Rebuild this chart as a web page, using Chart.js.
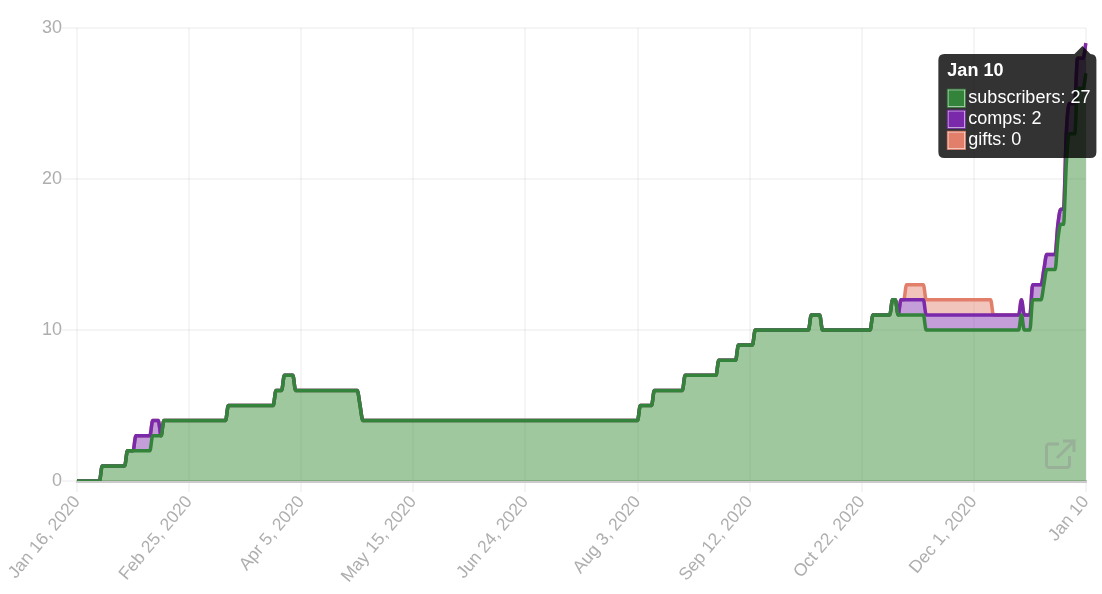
<!DOCTYPE html>
<html>
<head>
<meta charset="utf-8">
<style>
    html, body { margin: 0; padding: 0; background: #fff; }
    #wrap { position: relative; width: 1102px; height: 594px; }
    #popout { position: absolute; left: 1045px; top: 439px; width: 31px; height: 31px; }
</style>
<script src="https://cdn.jsdelivr.net/npm/chart.js@4"></script>
</head>
<body>
<div id="wrap">
    <canvas id="lineChart" width="1102" height="594"></canvas>
    <svg id="popout" viewBox="0 0 31 31" fill="none" stroke="rgba(140,140,140,0.4)" stroke-width="3">
        <path d="M14 5H4a2.5 2.5 0 0 0-2.5 2.5V26A2.5 2.5 0 0 0 4 28.5h18a2.5 2.5 0 0 0 2.5-2.5V17"/>
        <path d="M12 19L28 3M18 2h11v11"/>
    </svg>
</div>
<script>
Chart.defaults.font.family = "'Liberation Sans', Arial, sans-serif";

// one value per day, Jan 16 2020 to Jan 10 2021
const subscribers = [
    0,0,0,0,0,0,0,0,0,1,
    1,1,1,1,1,1,1,1,2,2,
    2,2,2,2,2,2,2,3,3,3,
    3,4,4,4,4,4,4,4,4,4,
    4,4,4,4,4,4,4,4,4,4,
    4,4,4,4,5,5,5,5,5,5,
    5,5,5,5,5,5,5,5,5,5,
    5,6,6,6,7,7,7,7,6,6,
    6,6,6,6,6,6,6,6,6,6,
    6,6,6,6,6,6,6,6,6,6,
    6,5,4,4,4,4,4,4,4,4,
    4,4,4,4,4,4,4,4,4,4,
    4,4,4,4,4,4,4,4,4,4,
    4,4,4,4,4,4,4,4,4,4,
    4,4,4,4,4,4,4,4,4,4,
    4,4,4,4,4,4,4,4,4,4,
    4,4,4,4,4,4,4,4,4,4,
    4,4,4,4,4,4,4,4,4,4,
    4,4,4,4,4,4,4,4,4,4,
    4,4,4,4,4,4,4,4,4,4,
    4,5,5,5,5,5,6,6,6,6,
    6,6,6,6,6,6,6,7,7,7,
    7,7,7,7,7,7,7,7,7,8,
    8,8,8,8,8,8,9,9,9,9,
    9,9,10,10,10,10,10,10,10,10,
    10,10,10,10,10,10,10,10,10,10,
    10,10,11,11,11,11,10,10,10,10,
    10,10,10,10,10,10,10,10,10,10,
    10,10,10,10,11,11,11,11,11,11,
    11,12,12,11,11,11,11,11,11,11,
    11,11,11,10,10,10,10,10,10,10,
    10,10,10,10,10,10,10,10,10,10,
    10,10,10,10,10,10,10,10,10,10,
    10,10,10,10,10,10,10,11,10,10,
    10,12,12,12,12,13,14,14,14,14,
    16,17,17,21,23,23,23,26,26,26,
    27
];
const comps = [
    0,0,0,0,0,0,0,0,0,0,
    0,0,0,0,0,0,0,0,0,0,
    0,1,1,1,1,1,1,1,1,1,
    0,0,0,0,0,0,0,0,0,0,
    0,0,0,0,0,0,0,0,0,0,
    0,0,0,0,0,0,0,0,0,0,
    0,0,0,0,0,0,0,0,0,0,
    0,0,0,0,0,0,0,0,0,0,
    0,0,0,0,0,0,0,0,0,0,
    0,0,0,0,0,0,0,0,0,0,
    0,0,0,0,0,0,0,0,0,0,
    0,0,0,0,0,0,0,0,0,0,
    0,0,0,0,0,0,0,0,0,0,
    0,0,0,0,0,0,0,0,0,0,
    0,0,0,0,0,0,0,0,0,0,
    0,0,0,0,0,0,0,0,0,0,
    0,0,0,0,0,0,0,0,0,0,
    0,0,0,0,0,0,0,0,0,0,
    0,0,0,0,0,0,0,0,0,0,
    0,0,0,0,0,0,0,0,0,0,
    0,0,0,0,0,0,0,0,0,0,
    0,0,0,0,0,0,0,0,0,0,
    0,0,0,0,0,0,0,0,0,0,
    0,0,0,0,0,0,0,0,0,0,
    0,0,0,0,0,0,0,0,0,0,
    0,0,0,0,0,0,0,0,0,0,
    0,0,0,0,0,0,0,0,0,0,
    0,0,0,0,0,0,0,0,0,0,
    0,0,0,0,0,0,0,0,0,0,
    0,0,0,0,1,1,1,1,1,1,
    1,1,1,1,1,1,1,1,1,1,
    1,1,1,1,1,1,1,1,1,1,
    1,1,1,1,1,1,1,1,1,1,
    1,1,1,1,1,1,1,1,1,1,
    1,1,1,1,1,1,1,1,1,1,
    1,1,1,2,2,2,2,2,2,2,
    2
];
const gifts = [
    0,0,0,0,0,0,0,0,0,0,
    0,0,0,0,0,0,0,0,0,0,
    0,0,0,0,0,0,0,0,0,0,
    0,0,0,0,0,0,0,0,0,0,
    0,0,0,0,0,0,0,0,0,0,
    0,0,0,0,0,0,0,0,0,0,
    0,0,0,0,0,0,0,0,0,0,
    0,0,0,0,0,0,0,0,0,0,
    0,0,0,0,0,0,0,0,0,0,
    0,0,0,0,0,0,0,0,0,0,
    0,0,0,0,0,0,0,0,0,0,
    0,0,0,0,0,0,0,0,0,0,
    0,0,0,0,0,0,0,0,0,0,
    0,0,0,0,0,0,0,0,0,0,
    0,0,0,0,0,0,0,0,0,0,
    0,0,0,0,0,0,0,0,0,0,
    0,0,0,0,0,0,0,0,0,0,
    0,0,0,0,0,0,0,0,0,0,
    0,0,0,0,0,0,0,0,0,0,
    0,0,0,0,0,0,0,0,0,0,
    0,0,0,0,0,0,0,0,0,0,
    0,0,0,0,0,0,0,0,0,0,
    0,0,0,0,0,0,0,0,0,0,
    0,0,0,0,0,0,0,0,0,0,
    0,0,0,0,0,0,0,0,0,0,
    0,0,0,0,0,0,0,0,0,0,
    0,0,0,0,0,0,0,0,0,0,
    0,0,0,0,0,0,0,0,0,0,
    0,0,0,0,0,0,0,0,0,0,
    0,0,0,0,0,0,1,1,1,1,
    1,1,1,1,1,1,1,1,1,1,
    1,1,1,1,1,1,1,1,1,1,
    1,1,1,1,1,1,1,0,0,0,
    0,0,0,0,0,0,0,0,0,0,
    0,0,0,0,0,0,0,0,0,0,
    0,0,0,0,0,0,0,0,0,0,
    0
];

const tickDays = [0, 40, 80, 120, 160, 200, 240, 280, 320, 360];
const yTicks = [0, 10, 20, 30];

const labels = [];
for(let i = 0; i < subscribers.length; i++){
    const day = new Date(2020, 0, 16 + i);
    const text = day.toLocaleDateString("en-US", {month: "short", day: "numeric"});
    labels.push(i === subscribers.length - 1 ? text : text + ", " + day.getFullYear());
}

const green = "#33833a";
const purple = "#7b29ab";
const coral = "#e27f6a";

// tooltip sits on the top of the stack at the hovered day, pushed in from the right edge
Chart.Tooltip.positioners.stackTop = function(items){
    if(!items.length) return false;
    return {x: items[0].element.x - 3.5, y: Math.min(...items.map(item => item.element.y))};
};

const chart = new Chart(document.getElementById("lineChart"), {
    type: "line",
    data: {
        labels: labels,
        datasets: [
            {label: "subscribers", data: subscribers, borderColor: green, backgroundColor: "rgba(46, 135, 46, 0.46)", fill: "origin"},
            {label: "comps", data: comps, borderColor: purple, backgroundColor: "rgba(123, 41, 171, 0.45)", fill: "-1"},
            {label: "gifts", data: gifts, borderColor: coral, backgroundColor: "rgba(226, 127, 106, 0.45)", fill: "-1"}
        ]
    },
    options: {
        responsive: false,
        animation: false,
        layout: {autoPadding: false, padding: {top: 28, right: 14.5}},
        elements: {
            point: {radius: 0, hoverRadius: 0},
            line: {borderWidth: 3.5, cubicInterpolationMode: "monotone", borderJoinStyle: "round"}
        },
        interaction: {mode: "index", intersect: false},
        scales: {
            x: {
                grid: {color: "rgba(0, 0, 0, 0.04)", lineWidth: 2, tickLength: 11},
                border: {color: "#cbcbcb", width: 3},
                ticks: {autoSkip: false, minRotation: 50, maxRotation: 50, color: "#aeaeae", font: {size: 17.5}, padding: 0},
                afterBuildTicks: axis => {
                    axis.ticks = tickDays.map(day => ({value: day}));
                },
                afterFit: axis => {
                    axis.height = 113;
                }
            },
            y: {
                stacked: true,
                min: 0,
                max: 30,
                grid: {color: "rgba(0, 0, 0, 0.04)", lineWidth: 2, tickLength: 15},
                border: {display: false},
                ticks: {color: "#aeaeae", font: {size: 18}, padding: 0},
                afterBuildTicks: axis => {
                    axis.ticks = yTicks.map(v => ({value: v}));
                },
                afterFit: axis => {
                    axis.width = 77;
                }
            }
        },
        plugins: {
            legend: {display: false},
            tooltip: {
                position: "stackTop",
                xAlign: "right",
                yAlign: "top",
                backgroundColor: "rgba(0, 0, 0, 0.8)",
                titleFont: {size: 18, weight: "bold"},
                bodyFont: {size: 18, lineHeight: 1.17},
                titleColor: "#fff",
                bodyColor: "#fff",
                padding: {left: 9, right: 6, top: 6, bottom: 7},
                bodySpacing: 0,
                boxPadding: 1,
                caretSize: 8,
                caretPadding: 3,
                cornerRadius: 6,
                callbacks: {
                    labelColor: function(context){
                        const color = context.dataset.borderColor;
                        return {borderColor: color, backgroundColor: color};
                    }
                }
            }
        }
    }
});

const lastDay = subscribers.length - 1;
chart.tooltip.setActiveElements([
    {datasetIndex: 0, index: lastDay},
    {datasetIndex: 1, index: lastDay},
    {datasetIndex: 2, index: lastDay}
], {x: 0, y: 0});
chart.update();
</script>
</body>
</html>
